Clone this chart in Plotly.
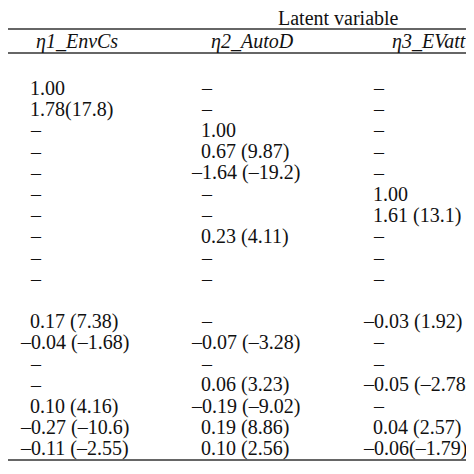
import plotly.graph_objects as go

# loading table columns ("" = blank spacer row)
col_headers = ["η1_EnvCs", "η2_AutoD", "η3_EVatt"]
env_cs = ["1.00", "1.78(17.8)", "–", "–", "–", "–", "–", "–", "–", "–", "",
          "0.17 (7.38)", "–0.04 (–1.68)", "–", "–", "0.10 (4.16)", "–0.27 (–10.6)", "–0.11 (–2.55)"]
auto_d = ["–", "–", "1.00", "0.67 (9.87)", "–1.64 (–19.2)", "–", "–", "0.23 (4.11)", "–", "–", "",
          "–", "–0.07 (–3.28)", "–", "0.06 (3.23)", "–0.19 (–9.02)", "0.19 (8.86)", "0.10 (2.56)"]
ev_att = ["–", "–", "–", "–", "–", "1.00", "1.61 (13.1)", "–", "–", "–", "",
          "–0.03 (1.92)", "–", "–", "–0.05 (–2.78)", "–", "0.04 (2.57)", "–0.06(–1.79)"]
footnote = "tions are given in Table 4; (t-statistics in parentheses); – = data not available."

FONT = dict(family="Liberation Serif", size=20, color="#111")
col_x = [20, 191, 363]
head_x = [69, 244, 421]
row0, step = 80, 21.2

fig = go.Figure()
ann = [dict(x=330, y=10, text="Latent variable", xanchor="center")]
for hx, h in zip(head_x, col_headers):
    ann.append(dict(x=hx, y=33, text=f"<i>{h}</i>", xanchor="center"))
for cx, col in zip(col_x, [env_cs, auto_d, ev_att]):
    for i, v in enumerate(col):
        if not v:
            continue
        shift = -10 if v.startswith("–") and len(v) > 1 else 0
        ann.append(dict(x=cx, y=row0 + i * step, text=v, xanchor="left", xshift=shift))
ann.append(dict(x=-6, y=464, text=footnote, xanchor="left"))
for a in ann:
    a.update(showarrow=False, yanchor="middle", font=FONT, xref="x", yref="y")

for y in [21, 45, 452]:
    fig.add_shape(type="line", x0=0, x1=474, y0=y, y1=y, line=dict(color="#333", width=1.3))

fig.update_layout(
    width=474, height=474, margin=dict(l=0, r=0, t=0, b=0),
    paper_bgcolor="white", plot_bgcolor="white", annotations=ann,
    xaxis=dict(range=[0, 474], visible=False, fixedrange=True),
    yaxis=dict(range=[474, 0], visible=False, fixedrange=True),
    showlegend=False,
)
fig.write_html("out.html")
